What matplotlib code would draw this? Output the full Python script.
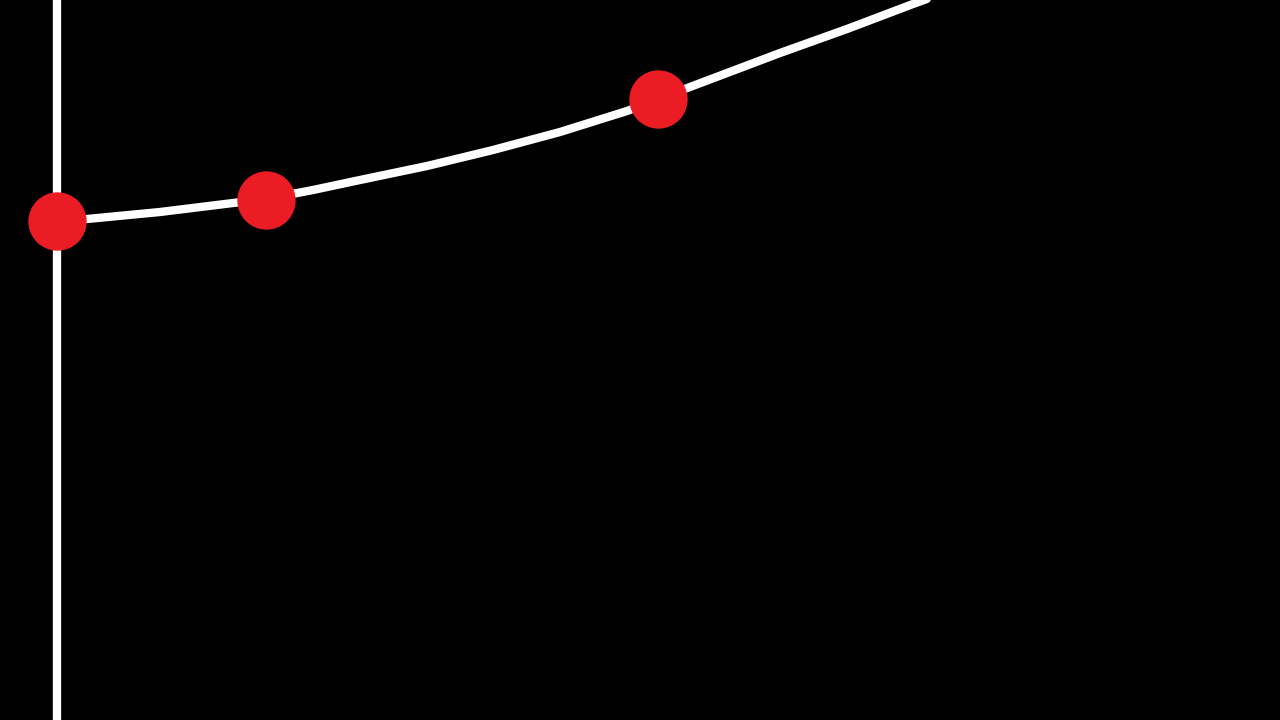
import numpy as np
import matplotlib.pyplot as plt

# curve (x from the vertical axis, y up)
curve_x = [0, 0.30, 1.03, 1.76, 2.09, 2.56, 3.03, 3.70, 4.36, 5.03, 5.70, 6.01, 6.33, 7.23, 7.90, 8.56, 8.78]
curve_y = [4.99, 5.01, 5.08, 5.17, 5.21, 5.30, 5.40, 5.54, 5.70, 5.88, 6.09, 6.21, 6.33, 6.67, 6.91, 7.16, 7.24]

# red points
pts_x = [0, 2.09, 6.01]
pts_y = [4.99, 5.20, 6.21]

fig = plt.figure(figsize=(12.8, 7.2), dpi=100, facecolor='black')
ax = fig.add_axes([0, 0, 1, 1])
ax.set_facecolor('black')
ax.set_xlim(-0.57, 12.23)
ax.set_ylim(0, 7.2)
ax.axis('off')

ax.axvline(0, color='white', lw=6, zorder=1)
ax.plot(curve_x, curve_y, color='white', lw=6, solid_joinstyle='round',
        solid_capstyle='round', zorder=2)
ax.plot(pts_x, pts_y, 'o', color='#ec1c24', markersize=42, markeredgewidth=0, zorder=3)

plt.savefig('out.png', dpi=100, facecolor='black')
